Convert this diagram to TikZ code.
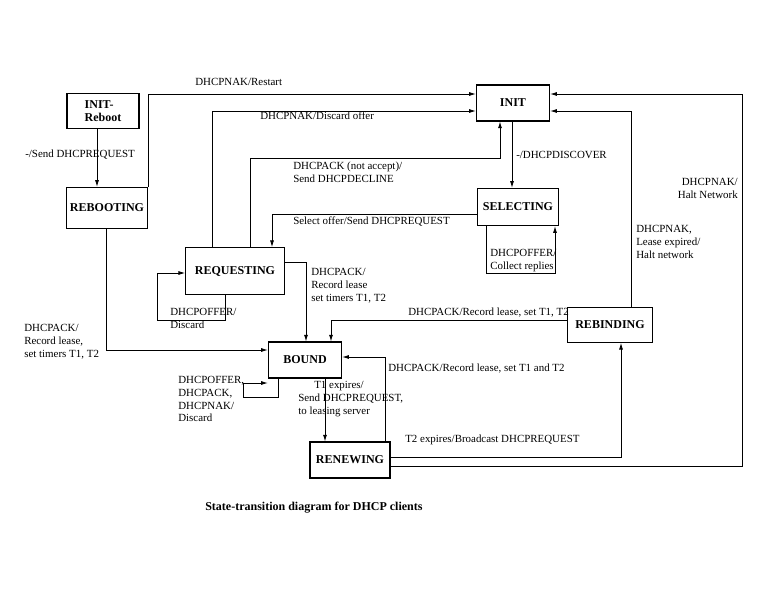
\documentclass[tikz,border=0pt]{standalone}
\usepackage{fontspec}
\setmainfont{Liberation Serif}
\usetikzlibrary{arrows.meta}
\begin{document}
\begin{tikzpicture}[x=0.75pt,y=-0.75pt,
  state/.style={draw,thick,font=\fontsize{9}{10}\selectfont\bfseries,inner sep=0pt},
  lbl/.style={font=\fontsize{8.2}{9.6}\selectfont,inner sep=0pt,align=left},
  tr/.style={draw,semithick,-{Latex[length=5pt,width=3pt]}}]
\useasboundingbox (0,0) rectangle (768,593);

% states
\node[state,minimum width=54pt,minimum height=26pt,align=left] (initrb) at (103,111) {INIT-\\Reboot};
\node[state,minimum width=61pt,minimum height=31pt] (rebooting) at (107,208) {REBOOTING};
\node[state,minimum width=55pt,minimum height=27pt] (init) at (513,103) {INIT};
\node[state,minimum width=61pt,minimum height=28pt] (selecting) at (518,207) {SELECTING};
\node[state,minimum width=74pt,minimum height=35pt] (requesting) at (235,271) {REQUESTING};
\node[state,minimum width=55pt,minimum height=27pt] (bound) at (305,360) {BOUND};
\node[state,minimum width=64pt,minimum height=26pt] (rebinding) at (610,325) {REBINDING};
\node[state,minimum width=60pt,minimum height=27pt] (renewing) at (350,460) {RENEWING};

% transitions
\draw[tr] (initrb.south -| 97,0) -- (rebooting.north -| 97,0);
\node[lbl,anchor=west] (l1) at (25,155) {-/Send DHCPREQUEST};

\draw[tr] (rebooting.north -| 148,0) |- (init.west |- 0,94);
\node[lbl,anchor=west] (l2) at (195,82) {DHCPNAK/Restart};

\draw[tr] (requesting.north -| 212,0) |- (init.west |- 0,111);
\node[lbl,anchor=west] (l3) at (260,116) {DHCPNAK/Discard offer};

\draw[tr] (requesting.north -| 250,0) |- (500,158) -- (init.south -| 500,0);
\node[lbl,anchor=north west] (l4) at (293,162) {DHCPACK (not accept)/\\Send DHCPDECLINE};

\draw[tr] (init.south -| 512,0) -- (selecting.north -| 512,0);
\node[lbl,anchor=west] (l5) at (516,155) {-/DHCPDISCOVER};

\draw[tr] (selecting.west |- 0,214) -| (requesting.north -| 272,0);
\node[lbl,anchor=west] (l6) at (293,222) {Select offer/Send DHCPREQUEST};

\draw[tr] (selecting.south -| 486,0) |- (555,273) -- (selecting.south -| 555,0);
\node[lbl,anchor=north west] (l7) at (490,249) {DHCPOFFER/\\Collect replies};

\draw[tr] (requesting.south -| 225,0) |- (157,320) |- (requesting.west |- 0,273);
\node[lbl,anchor=north west] (l8) at (170,308) {DHCPOFFER/\\Discard};

\draw[tr] (requesting.east |- 0,262) -| (bound.north -| 306,0);
\node[lbl,anchor=north west] (l9) at (311,268) {DHCPACK/\\Record lease\\set timers T1, T2};

\draw[tr] (rebooting.south -| 106,0) |- (bound.west |- 0,350);
\node[lbl,anchor=north west] (l10) at (24,324) {DHCPACK/\\Record lease,\\set timers T1, T2};

\draw[tr] (rebinding.west |- 0,320) -| (bound.north -| 331,0);
\node[lbl,anchor=west] (l11) at (408,313) {DHCPACK/Record lease, set T1, T2};

\draw[tr] (bound.south -| 278,0) |- (243,397) |- (bound.west |- 0,383);
\node[lbl,anchor=north west] (l12) at (178,376) {DHCPOFFER,\\DHCPACK,\\DHCPNAK/\\Discard};

\draw[tr] (bound.south -| 325,0) -- (renewing.north -| 325,0);
\node[lbl,anchor=north west] (l13) at (298,381) {\hspace*{12pt}T1 expires/\\Send DHCPREQUEST,\\to leasing server};

\draw[tr] (renewing.north -| 385,0) |- (bound.east |- 0,357);
\node[lbl,anchor=west] (l14) at (388,369) {DHCPACK/Record lease, set T1 and T2};

\draw[tr] (renewing.east |- 0,457) -| (rebinding.south -| 621,0);
\node[lbl,anchor=west] (l15) at (405,440) {T2 expires/Broadcast DHCPREQUEST};

\draw[tr] (renewing.east |- 0,466) -| (742,94) -- (init.east |- 0,94);
\node[lbl,anchor=north east,align=right] (l16) at (738,178) {DHCPNAK/\\Halt Network};

\draw[tr] (rebinding.north -| 631,0) |- (init.east |- 0,111);
\node[lbl,anchor=north west] (l17) at (636,225) {DHCPNAK,\\Lease expired/\\Halt network};

% caption
\node[font=\fontsize{9}{10}\selectfont\bfseries,anchor=west,inner sep=0pt] (cap) at (205,508) {State-transition diagram for DHCP clients};
\end{tikzpicture}
\end{document}
